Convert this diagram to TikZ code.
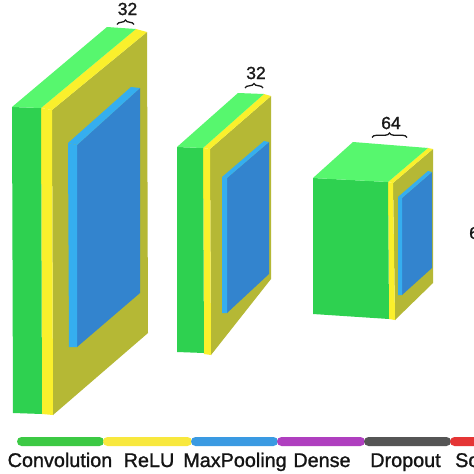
\documentclass[tikz,border=0pt]{standalone}
\usepackage{fontspec}
\setmainfont{Liberation Sans}[FakeBold=0.5]
\newfontfamily\heavyfont{Liberation Sans}[FakeBold=1.2]
\usetikzlibrary{decorations.pathreplacing}
\definecolor{gfront}{HTML}{2ED150}
\definecolor{gtop}{HTML}{57F76E}
\definecolor{ylw}{HTML}{FAF02C}
\definecolor{olive}{HTML}{B5B835}
\definecolor{bdark}{HTML}{3384CE}
\definecolor{blight}{HTML}{35AEEF}
\definecolor{lgreen}{HTML}{3CC944}
\definecolor{lyellow}{HTML}{F8E83E}
\definecolor{lblue}{HTML}{3A9AE2}
\definecolor{lpurple}{HTML}{AF3FBF}
\definecolor{lgray}{HTML}{555555}
\definecolor{lred}{HTML}{E53535}
\tikzset{
  face/.style={fill=#1, draw=none},
  lbl/.style={font=\heavyfont\fontsize{17.5}{17.5}\selectfont, inner sep=0pt, text=black!90},
  legtext/.style={font=\heavyfont\fontsize{19.8}{20}\selectfont, inner sep=0pt, anchor=base, text=black!92},
  legbar/.style={fill=#1, draw=none, rounded corners=4.5pt},
  bracedeco/.style={decorate, decoration={brace, amplitude=4.5pt}, line width=1.3pt, black!90}
}
\begin{document}
\begin{tikzpicture}[x=1pt,y=-1pt]
\useasboundingbox (0,0) rectangle (474,474);
\clip (0,0) rectangle (474,474);
\fill[white] (0,0) rectangle (474,474);

% ---- Block 1 ----
\fill[face=olive] (52,110) -- (147,32) -- (148,333) -- (53,415) -- cycle;
\fill[face=ylw] (41,108) -- (52,110) -- (53,415) -- (42,414) -- cycle;
\fill[face=ylw] (41,108) -- (136,29) -- (147,32) -- (52,110) -- cycle;
\fill[face=gfront] (12,107) -- (41,108) -- (42,414) -- (13,413) -- cycle;
\fill[face=gtop] (12,107) -- (107,27) -- (136,29) -- (41,108) -- cycle;
\fill[face=bdark] (77,145) -- (140,88) -- (140,293) -- (77,347) -- cycle;
\fill[face=blight] (68,143) -- (77,145) -- (77,347) -- (69,347) -- cycle;
\fill[face=blight] (68,143) -- (131,87) -- (140,88) -- (77,145) -- cycle;

% ---- Block 2 ----
\fill[face=olive] (210,149) -- (271,96) -- (271,279) -- (211,355) -- cycle;
\fill[face=ylw] (203,148) -- (210,149) -- (211,355) -- (204,354) -- cycle;
\fill[face=ylw] (203,148) -- (264,94) -- (271,96) -- (210,149) -- cycle;
\fill[face=gfront] (177,147) -- (203,148) -- (204,353) -- (177,352) -- cycle;
\fill[face=gtop] (177,147) -- (238,93) -- (264,94) -- (203,148) -- cycle;
\fill[face=bdark] (227,178) -- (269,142) -- (269,274) -- (227,313) -- cycle;
\fill[face=blight] (222,177) -- (227,178) -- (227,313) -- (222,313) -- cycle;
\fill[face=blight] (222,177) -- (264,141) -- (269,142) -- (227,178) -- cycle;

% ---- Block 3 ----
\fill[face=olive] (393,183) -- (433,149) -- (433,283) -- (395,320) -- cycle;
\fill[face=ylw] (388,182) -- (393,183) -- (395,320) -- (389,319) -- cycle;
\fill[face=ylw] (388,182) -- (428,148) -- (433,149) -- (393,183) -- cycle;
\fill[face=gfront] (313,178) -- (388,182) -- (389,319) -- (313,314) -- cycle;
\fill[face=gtop] (313,178) -- (353,142) -- (428,148) -- (388,182) -- cycle;
\fill[face=bdark] (402,198) -- (432,172) -- (432,268) -- (402,295) -- cycle;
\fill[face=blight] (398,197) -- (402,198) -- (402,295) -- (398,295) -- cycle;
\fill[face=blight] (398,197) -- (428,171) -- (432,172) -- (402,198) -- cycle;

% ---- labels with braces ----
\node[lbl] (l1) at (127.5,9) {32};
\coordinate (b1a) at (117,24.5);
\coordinate (b1b) at (134,24.5);
\draw[bracedeco] (b1a) -- (b1b);

\node[lbl] (l2) at (256,73) {32};
\coordinate (b2a) at (245,88);
\coordinate (b2b) at (263,88);
\draw[bracedeco] (b2a) -- (b2b);

\node[lbl] (l3) at (391,123) {64};
\coordinate (b3a) at (372,137.5);
\coordinate (b3b) at (407,137.5);
\draw[bracedeco] (b3a) -- (b3b);

\node[lbl, anchor=west] (l4) at (469,233) {6};

% ---- legend ----
\fill[legbar=lgreen]  (17,437)  rectangle (104,446);
\fill[legbar=lyellow] (103,437) rectangle (192,446);
\fill[legbar=lblue]   (191,437) rectangle (278,446);
\fill[legbar=lpurple] (277,437) rectangle (365,446);
\fill[legbar=lgray]   (364,437) rectangle (451,446);
\fill[legbar=lred]    (450,437) rectangle (495,446);

\node[legtext] (t1) at (60,467) {Convolution};
\node[legtext] (t2) at (149,467) {ReLU};
\node[legtext] (t3) at (235,467) {MaxPooling};
\node[legtext] (t4) at (322,467) {Dense};
\node[legtext] (t5) at (405.5,467) {Dropout};
\node[legtext, anchor=base west] (t6) at (455,467) {So};
\end{tikzpicture}
\end{document}
